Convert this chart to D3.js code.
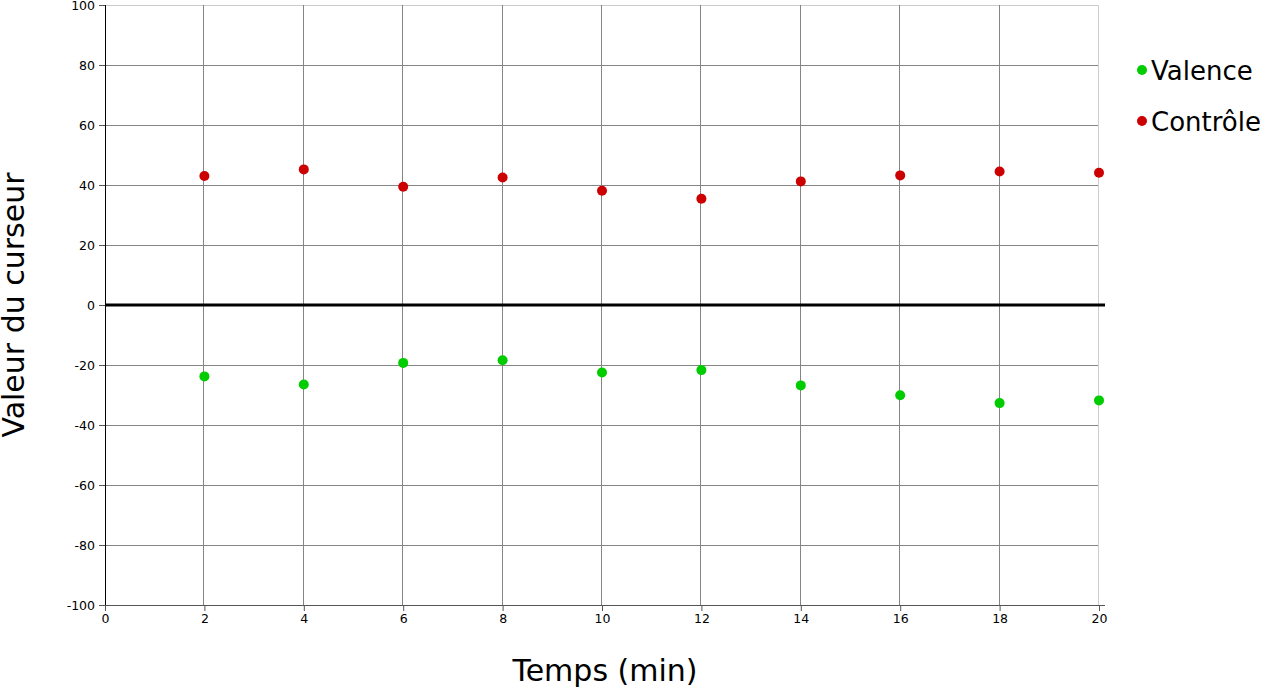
<!DOCTYPE html>
<html><head><meta charset="utf-8">
<script src="https://cdn.jsdelivr.net/npm/d3@7"></script>
<style>body{margin:0;background:#fff;} svg{display:block;font-family:"DejaVu Sans",sans-serif;}</style>
</head><body>
<svg id="c" width="1263" height="687"></svg>
<script>
const times = [2,4,6,8,10,12,14,16,18,20];
const valence = [-23.8,-26.5,-19.3,-18.4,-22.5,-21.7,-26.8,-30.1,-32.7,-31.8];
const controle = [43.0,45.2,39.4,42.5,38.1,35.4,41.2,43.2,44.5,44.1];
const xTicks = [0,2,4,6,8,10,12,14,16,18,20];
const yTicks = [-100,-80,-60,-40,-20,0,20,40,60,80,100];
const seriesNames = ["Valence","Contrôle"];
const seriesColors = ["#00cc00","#cc0000"];

const svg = d3.select("#c");
const x = d3.scaleLinear().domain([0,20]).range([105,1099]);
const y = d3.scaleLinear().domain([-100,100]).range([605,5]);

// grid
svg.append("g").selectAll("line").data(yTicks.filter(d=>d!==-100&&d!==0)).join("line")
  .attr("x1",x(0)).attr("x2",x(20)).attr("y1",d=>y(d)+0.5).attr("y2",d=>y(d)+0.5)
  .attr("stroke",d=>d===100?"#cccccc":"#858585").attr("stroke-width",1);
svg.append("g").selectAll("line").data(xTicks.filter(d=>d!==0)).join("line")
  .attr("y1",y(100)).attr("y2",y(-100)).attr("x1",d=>Math.round(x(d))-0.5).attr("x2",d=>Math.round(x(d))-0.5)
  .attr("stroke",d=>d===20?"#cccccc":"#858585").attr("stroke-width",1);

// axes
const fmt = d => String(d);
const yAxis = d3.axisLeft(y).tickValues(yTicks).tickFormat(fmt).tickSize(6).tickPadding(4);
const gy = svg.append("g").attr("transform",`translate(${x(0)},0)`).call(yAxis);
gy.select(".domain").attr("stroke","#000").attr("d",`M0.5,${y(100)}V${y(-100)}`);
gy.selectAll(".tick line").attr("stroke","#555");
gy.selectAll("text").attr("font-size","12.5px").attr("font-family","DejaVu Sans").attr("fill","#000");

const xAxis = d3.axisBottom(x).tickValues(xTicks).tickFormat(fmt).tickSize(6).tickPadding(3);
const gx = svg.append("g").attr("transform",`translate(0,${y(-100)})`).call(xAxis);
gx.select(".domain").attr("stroke","#555").attr("d",`M${x(0)-6},0.5H${x(20)+6}`);
gx.selectAll(".tick line").attr("stroke","#555");
gx.selectAll("text").attr("font-size","12.5px").attr("font-family","DejaVu Sans").attr("fill","#000");

// zero line
svg.append("line").attr("x1",x(0)).attr("x2",x(20)+6).attr("y1",y(0)).attr("y2",y(0))
  .attr("stroke","#000").attr("stroke-width",3);

// points
const data = [valence, controle];
data.forEach((vals,i)=>{
  svg.append("g").selectAll("circle").data(vals).join("circle")
    .attr("cx",(d,j)=>x(times[j])).attr("cy",d=>y(d)).attr("r",5)
    .attr("fill",seriesColors[i]);
});

// legend
seriesNames.forEach((n,i)=>{
  const ly = 70 + i*51;
  svg.append("circle").attr("cx",1142).attr("cy",ly).attr("r",5).attr("fill",seriesColors[i]);
  svg.append("text").attr("x",1151).attr("y",ly+9.5).attr("font-size","26px").attr("fill","#000").text(n);
});

// titles
svg.append("text").attr("x",605).attr("y",681).attr("text-anchor","middle").attr("font-size","30px").text("Temps (min)");
svg.append("text").attr("transform","translate(24,305) rotate(-90)").attr("text-anchor","middle").attr("font-size","30px").text("Valeur du curseur");
</script>
</body></html>
